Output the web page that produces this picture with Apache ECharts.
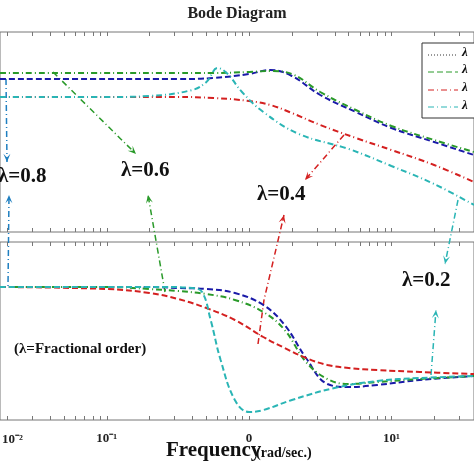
<!DOCTYPE html>
<html>
<head>
<meta charset="UTF-8">
<title>Bode Diagram</title>
<script src="https://cdn.jsdelivr.net/npm/echarts@6/dist/echarts.min.js"></script>
<style>
    body{ margin:0; padding:0; background:#fff; }
    #chart{ width:474px; height:474px; }
</style>
</head>
<body>
<div id="chart"></div>
<script>
var magX     = [-1.75, -1.0, -0.5, -0.25, 0.0, 0.15, 0.3, 0.5, 0.75, 1.0, 1.3, 1.58];
var magBlue  = [79, 79, 79, 78, 74, 70, 76, 95, 112, 128, 142, 155];
var magGreen = [73, 73, 73, 73, 72, 71, 74, 92, 110, 126, 140, 152];
var magRed   = [97, 97, 97, 98, 101, 105, 113, 125, 138, 150, 165, 182];
var cyanX    = [-1.75, -1.0, -0.7, -0.4, -0.3, -0.22, -0.15, -0.05, 0.1, 0.35, 0.7, 1.0, 1.3, 1.58];
var magCyan  = [97, 97, 96, 90, 82, 68, 74, 92, 112, 134, 149, 166, 184, 205];

var phX      = [-1.75, -1.0, -0.7, -0.5, -0.3, -0.1, 0.1, 0.25, 0.4, 0.55, 0.7, 0.9, 1.2, 1.58];
var phBlue   = [287, 287, 287, 288, 289, 293, 305, 325, 358, 384, 387, 385, 380, 376];
var phGreen  = [287, 287, 289, 291, 294, 300, 312, 330, 362, 379, 384, 382, 379, 376];
var phRed    = [287, 289, 293, 299, 308, 320, 337, 348, 358, 365, 368, 370, 372, 374];
var cyX      = [-1.75, -0.6, -0.4, -0.33, -0.27, -0.2, -0.1, 0.0, 0.1, 0.3, 0.6, 0.9, 1.2, 1.58];
var phCyan   = [287, 287, 288, 292, 320, 360, 400, 412, 410, 400, 388, 381, 378, 376];

var tickLabels = {'-1': '10\u207B\u00B9', '0': '0', '1': '10\u00B9'};

function pairs(xs, ys){ return xs.map(function(x, i){ return [x, ys[i]]; }); }
var minorTicks = [];
[-2, -1, 0, 1].forEach(function(d){
    for (var k = 1; k < 10; k++){
        var v = d + Math.log10(k);
        if (v >= -1.75 && v <= 1.58) minorTicks.push(v);
    }
});

var serif = 'Liberation Serif';
var chart = echarts.init(document.getElementById('chart'));

function xAxisDef(idx, showLabel){
    return {
        type: 'value', gridIndex: idx, min: -1.75, max: 1.58,
        axisLine: {show: false}, splitLine: {show: false},
        axisTick: {show: true, inside: true, length: 4, customValues: minorTicks, lineStyle: {color: '#777'}},
        axisLabel: {show: showLabel, customValues: [-1, 0, 1], fontFamily: serif, fontWeight: 'bold',
            fontSize: 13, color: '#222', margin: 12,
            formatter: function(v){ return tickLabels[String(Math.round(v))]; }}
    };
}
function topAxis(idx){
    var a = xAxisDef(idx, false); a.position = 'top'; return a;
}

function line(name, xi, data, color, type){
    return {
        name: name, type: 'line', xAxisIndex: xi, yAxisIndex: xi, data: data,
        smooth: 0.4, showSymbol: false,
        lineStyle: {color: color, width: 2, type: type}
    };
}

var blueC = '#1a1aa8', greenC = '#2a9a2a', redC = '#d42020', cyanC = '#2ab5b5';

var graphics = [
    {type: 'text', left: 'center', top: 6, style: {text: 'Bode Diagram', font: 'bold 16px ' + serif, fill: '#222'}},
    // legend box
    {type: 'rect', shape: {x: 422, y: 43, width: 60, height: 75}, style: {fill: '#fff', stroke: '#333', lineWidth: 1}},
    {type: 'line', shape: {x1: 428, y1: 55, x2: 458, y2: 55}, style: {stroke: '#333', lineDash: [1, 2]}},
    {type: 'line', shape: {x1: 428, y1: 72, x2: 458, y2: 72}, style: {stroke: greenC, lineDash: [6, 3]}},
    {type: 'line', shape: {x1: 428, y1: 90, x2: 458, y2: 90}, style: {stroke: redC, lineDash: [6, 3, 1, 3]}},
    {type: 'line', shape: {x1: 428, y1: 107, x2: 458, y2: 107}, style: {stroke: cyanC, lineDash: [6, 3, 1, 3]}},
    {type: 'text', x: 462, y: 48, style: {text: 'λ\n\nλ\n\nλ\n\nλ', font: 'italic bold 13px ' + serif, fill: '#111', lineHeight: 8.8}},
    // labels
    {type: 'text', x: -2, y: 166, style: {text: 'λ=0.8', font: 'bold 21px ' + serif, fill: '#111'}},
    {type: 'text', x: 121, y: 160, style: {text: 'λ=0.6', font: 'bold 21px ' + serif, fill: '#111'}},
    {type: 'text', x: 257, y: 184, style: {text: 'λ=0.4', font: 'bold 21px ' + serif, fill: '#111'}},
    {type: 'text', x: 402, y: 270, style: {text: 'λ=0.2', font: 'bold 21px ' + serif, fill: '#111'}},
    {type: 'text', x: 14, y: 342, style: {text: '(λ=Fractional order)', font: 'bold 15px ' + serif, fill: '#111'}},
    {type: 'text', x: 2, y: 433, style: {text: '10\u207B\u00B2', font: 'bold 13px ' + serif, fill: '#222'}},
    {type: 'text', x: 166, y: 440, style: {text: 'Frequency', font: 'bold 21px ' + serif, fill: '#111'}},
    {type: 'text', x: 256, y: 446, style: {text: '(rad/sec.)', font: 'bold 14px ' + serif, fill: '#111'}}
];

function arrow(pts, color){
    graphics.push({type: 'polyline', shape: {points: pts},
        style: {stroke: color, lineWidth: 1.5, lineDash: [6, 3, 1, 3], fill: null}});
    var a = pts[pts.length - 2], b = pts[pts.length - 1];
    var ang = Math.atan2(b[1] - a[1], b[0] - a[0]), s = 9;
    graphics.push({type: 'polygon', shape: {points: [b,
        [b[0] - s * Math.cos(ang - 0.4), b[1] - s * Math.sin(ang - 0.4)],
        [b[0] - s * 0.5 * Math.cos(ang), b[1] - s * 0.5 * Math.sin(ang)],
        [b[0] - s * Math.cos(ang + 0.4), b[1] - s * Math.sin(ang + 0.4)]]},
        style: {fill: color}});
}
arrow([[6, 79], [7, 162]], '#1f7fc0');
arrow([[0, 287], [8, 287], [9, 195]], '#1f7fc0');
arrow([[53, 72], [136, 154]], greenC);
arrow([[165, 292], [148, 195]], greenC);
arrow([[344, 135], [305, 180]], redC);
arrow([[258, 344], [264, 300], [284, 215]], redC);
arrow([[458, 200], [445, 264]], cyanC);
arrow([[431, 375], [436, 310]], cyanC);

chart.setOption({
    animation: false,
    grid: [
        {left: 0, right: 0, top: 32, height: 200, show: true, borderColor: '#777', borderWidth: 1},
        {left: 0, right: 0, top: 242, height: 178, show: true, borderColor: '#777', borderWidth: 1}
    ],
    xAxis: [xAxisDef(0, false), xAxisDef(1, true), topAxis(0), topAxis(1)],
    yAxis: [
        {type: 'value', gridIndex: 0, min: 32, max: 232, inverse: true, show: false},
        {type: 'value', gridIndex: 1, min: 242, max: 420, inverse: true, show: false}
    ],
    series: [
        line('λ=0.8', 0, pairs(magX, magBlue), blueC, [6, 3]),
        line('λ=0.6', 0, pairs(magX, magGreen), greenC, [6, 3, 1, 3]),
        line('λ=0.4', 0, pairs(magX, magRed), redC, [6, 3, 1, 3]),
        line('λ=0.2', 0, pairs(cyanX, magCyan), cyanC, [6, 3, 1, 3]),
        line('λ=0.8', 1, pairs(phX, phBlue), blueC, [6, 3]),
        line('λ=0.6', 1, pairs(phX, phGreen), greenC, [6, 3, 1, 3]),
        line('λ=0.4', 1, pairs(phX, phRed), redC, [6, 3]),
        line('λ=0.2', 1, pairs(cyX, phCyan), cyanC, [6, 3])
    ],
    graphic: graphics
});
</script>
</body>
</html>
